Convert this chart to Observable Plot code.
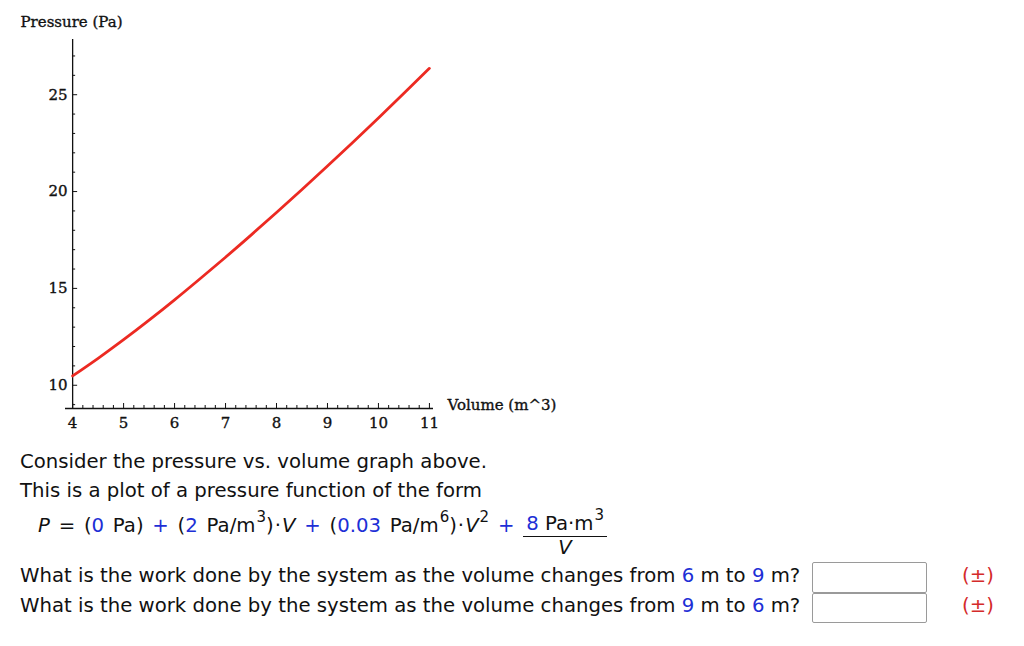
<!DOCTYPE html>
<html>
<head>
<meta charset="utf-8">
<script src="https://cdn.jsdelivr.net/npm/d3@7"></script>
<script src="https://cdn.jsdelivr.net/npm/@observablehq/plot@0.6"></script>
<style>
  body { margin: 0; background: #fff; width: 1024px; height: 646px; position: relative; overflow: hidden; }
  #chart { position: absolute; left: 0; top: 0; }
  .t { position: absolute; font-family: "DejaVu Sans", Verdana, sans-serif; font-size: 19.7px; color: #111; white-space: nowrap; line-height: 24px; }
  .b { color: #1d2fd6; }
  .r { color: #d42a2a; }
  sup { font-size: 15px; line-height: 0; position: relative; top: -2px; margin-left: 1px; }
  .dot { padding: 0 1px; }
  .formula { word-spacing: 2.5px; }
  .frac { display: inline-block; vertical-align: top; position: relative; top: -1px; text-align: center; word-spacing: 0; }
  .num { display: block; border-bottom: 1.5px solid #111; line-height: 22px; padding: 0 3px 1px 3px; }
  .den { display: block; font-style: italic; line-height: 22px; }
  .box { position: absolute; border: 1px solid #9a9a9a; border-radius: 2px; background: #fff; }
</style>
</head>
<body>
<div id="chart"></div>

<div class="t" style="left:20px; top:450px;">Consider the pressure vs. volume graph above.</div>
<div class="t" style="left:20px; top:479px;">This is a plot of a pressure function of the form</div>

<div class="t formula" style="left:38px; top:514px;"><i>P</i> = (<span class="b">0</span> Pa) <span class="b">+</span> (<span class="b">2</span> Pa/m<sup>3</sup>)<span class="dot">·</span><i>V</i> <span class="b">+</span> (<span class="b">0.03</span> Pa/m<sup>6</sup>)<span class="dot">·</span><i>V</i><sup>2</sup> <span class="b">+</span> <span class="frac"><span class="num"><span class="b">8</span> Pa·m<sup>3</sup></span><span class="den">V</span></span></div>

<div class="t" style="left:20px; top:564px;">What is the work done by the system as the volume changes from <span class="b">6</span> m to <span class="b">9</span> m?</div>
<div class="t" style="left:20px; top:594px;">What is the work done by the system as the volume changes from <span class="b">9</span> m to <span class="b">6</span> m?</div>
<div class="box" style="left:812px; top:562px; width:113px; height:29px;"></div>
<div class="box" style="left:812px; top:593px; width:113px; height:28px;"></div>
<div class="t r" style="left:962px; top:564px;">(±)</div>
<div class="t r" style="left:962px; top:594px;">(±)</div>

<script>
// Data
const volume = [4, 4.5, 5, 5.5, 6, 6.5, 7, 7.5, 8, 8.5, 9, 9.5, 10, 10.5, 11];
const pressure = [10.48, 11.39, 12.35, 13.36, 14.41, 15.50, 16.61, 17.75, 18.92, 20.11, 21.32, 22.55, 23.80, 25.07, 26.36];
const xMajorTicks = [4, 5, 6, 7, 8, 9, 10, 11];
const yMajorTicks = [10, 15, 20, 25];
const xMinorTicks = d3.range(4, 11.001, 0.2).map(d => +d.toFixed(1)).filter(d => !xMajorTicks.includes(d));
const yMinorTicks = d3.range(9, 27.001, 1).filter(d => !yMajorTicks.includes(d));
const xLabel = "Volume (m^3)";
const yLabel = "Pressure (Pa)";

const data = volume.map((v, i) => ({v, p: pressure[i]}));

const W = 600, H = 440;
const mL = 65, mR = 167, mT = 39, mB = 32;
const xDom = [3.86, 11.08], yDom = [8.8, 27.85];
const frameW = W - mL - mR, frameH = H - mT - mB;
const originPx = (4 - xDom[0]) / (xDom[1] - xDom[0]) * frameW;
const txt = {fill: "#111", stroke: "#111", strokeWidth: 0.35};

const chart = Plot.plot({
  width: W, height: H,
  marginLeft: mL, marginRight: mR, marginTop: mT, marginBottom: mB,
  x: {domain: xDom, axis: null},
  y: {domain: yDom, axis: null},
  style: {fontFamily: "'DejaVu Serif', serif", fontSize: "15px", color: "#111", background: "white", overflow: "visible"},
  marks: [
    // axes lines
    Plot.ruleY([yDom[0]], {stroke: "#111", strokeWidth: 1.3}),
    Plot.ruleX([4], {stroke: "#111", strokeWidth: 1.3}),
    // x ticks (upward)
    Plot.tickX(xMajorTicks, {x: d => d, insetTop: frameH - 5, stroke: "#111"}),
    Plot.tickX(xMinorTicks, {x: d => d, insetTop: frameH - 3, stroke: "#111"}),
    // y ticks (rightward)
    Plot.tickY(yMajorTicks, {y: d => d, insetLeft: originPx, insetRight: frameW - originPx - 5, stroke: "#111"}),
    Plot.tickY(yMinorTicks, {y: d => d, insetLeft: originPx, insetRight: frameW - originPx - 3, stroke: "#111"}),
    // tick labels
    Plot.text(xMajorTicks, {x: d => d, text: d => String(d), frameAnchor: "bottom", dy: 19, ...txt}),
    Plot.text(yMajorTicks, {x: () => 4, y: d => d, text: d => String(d), textAnchor: "end", dx: -5, ...txt}),
    // axis labels
    Plot.text([xLabel], {text: d => d, frameAnchor: "bottom-right", textAnchor: "start", dx: 14, dy: 1, ...txt}),
    Plot.text([yLabel], {text: d => d, frameAnchor: "top-left", textAnchor: "start", dx: -45, dy: -23, ...txt}),
    // curve
    Plot.line(data, {x: "v", y: "p", curve: "natural", stroke: "#ec2a22", strokeWidth: 2.8})
  ]
});
document.getElementById("chart").appendChild(chart);
</script>
</body>
</html>
